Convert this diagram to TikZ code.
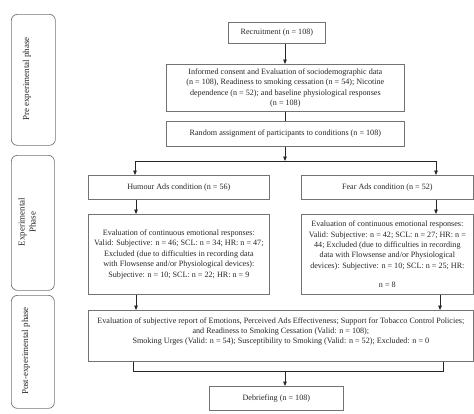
\documentclass[tikz,border=0pt]{standalone}
\usepackage{fontspec}
\setmainfont{Liberation Serif}
\usetikzlibrary{arrows.meta}
\begin{document}
\begin{tikzpicture}[x=1bp,y=-1bp,
  box/.style={draw=black!55, line width=0.7bp, fill=white, align=center, inner sep=0pt,
    anchor=north west, font=\fontsize{8.15}{10.4}\selectfont, text=black!85},
  phase/.style={draw=black!55, line width=0.7bp, rounded corners=6bp, anchor=north west, inner sep=0pt},
  phasetext/.style={rotate=90, align=center, font=\fontsize{9}{11}\selectfont, text=black!85},
  arr/.style={-{Triangle[length=4.5bp,width=3.6bp]}, line width=0.8bp, black!85},
  ln/.style={line width=0.8bp, black!85}]
\useasboundingbox (0,0) rectangle (474,413);

% phase boxes
\node[phase, minimum width=44bp, minimum height=131bp] (p1) at (11,14) {};
\node[phase, minimum width=43bp, minimum height=135bp] (p2) at (11,155) {};
\node[phase, minimum width=43bp, minimum height=113bp] (p3) at (11,295) {};
\node[phasetext] (t1) at (27,79) {Pre experimental phase};
\node[phasetext] (t2) at (27,222) {Experimental\\Phase};
\node[phasetext] (t3) at (26,351) {Post-experimental phase};

% main boxes
\node[box, minimum width=97bp, minimum height=21bp] (rec) at (228,22) {Recruitment (n = 108)};
\node[box, minimum width=238bp, minimum height=47bp] (inf) at (166,64)
  {Informed consent and Evaluation of sociodemographic data\\
   (n = 108), Readiness to smoking cessation (n = 54); Nicotine\\
   dependence (n = 52); and baseline physiological responses\\
   (n = 108)};
\node[box, minimum width=238bp, minimum height=25bp] (rnd) at (166,121)
  {Random assignment of participants to conditions (n = 108)};
\node[box, minimum width=181bp, minimum height=24bp] (hum) at (88,175) {Humour Ads condition (n = 56)};
\node[box, minimum width=172bp, minimum height=24bp] (fear) at (301,175) {Fear Ads condition (n = 52)};
\node[box, minimum width=181bp, minimum height=80bp] (heval) at (88,214)
  {Evaluation of continuous emotional responses:\\
   Valid: Subjective: n = 46; SCL: n = 34; HR: n = 47;\\
   Excluded (due to difficulties in recording data\\
   with Flowsense and/or Physiological devices):\\
   Subjective: n = 10; SCL: n = 22; HR: n = 9};
\node[box, minimum width=172bp, minimum height=80bp] (feval) at (301,214)
  {Evaluation of continuous emotional responses:\\
   Valid: Subjective: n = 42; SCL: n = 27; HR: n =\\
   44; Excluded (due to difficulties in recording\\
   data with Flowsense and/or Physiological\\
   devices): Subjective: n = 10; SCL: n = 25; HR:\\[9bp]
   n = 8};
\node[box, minimum width=385bp, minimum height=51bp] (post) at (88,310)
  {\parbox[c][45bp][t]{383bp}{\centering\vspace*{4bp}
   Evaluation of subjective report of Emotions, Perceived Ads Effectiveness; Support for Tobacco Control Policies;\\
   and Readiness to Smoking Cessation (Valid: n = 108);\\
   Smoking Urges (Valid: n = 54); Susceptibility to Smoking (Valid: n = 52); Excluded: n = 0}};
\node[box, minimum width=134bp, minimum height=24bp] (deb) at (209,386) {Debriefing (n = 108)};

% helper coordinates
\coordinate (cx) at (285,0);
\coordinate (split) at (285,161);
\coordinate (sl) at (135,161);
\coordinate (sr) at (436,161);
\coordinate (xl) at (136,0);
\coordinate (xr) at (440,0);
\coordinate (ub1) at (133,371);
\coordinate (ub2) at (443,371);
\coordinate (um) at (285,371);

% connectors
\draw[arr] (rec.south -| cx) -- (inf.north -| cx);
\draw[ln] (inf.south -| cx) -- (rnd.north -| cx);
\draw[arr] (rnd.south -| cx) -- (split);
\draw[ln] (sl) -- (sr);
\draw[arr] (sl) -- (hum.north -| sl);
\draw[arr] (sr) -- (fear.north -| sr);
\draw[arr] (hum.south -| xl) -- (heval.north -| xl);
\draw[arr] (fear.south -| sr) -- (feval.north -| sr);
\draw[arr] (heval.south -| xl) -- (post.north -| xl);
\draw[arr] (feval.south -| xr) -- (post.north -| xr);
\draw[ln] (post.south -| ub1) -- (ub1) -- (ub2) -- (post.south -| ub2);
\draw[arr] (um) -- (deb.north -| um);
\end{tikzpicture}
\end{document}
